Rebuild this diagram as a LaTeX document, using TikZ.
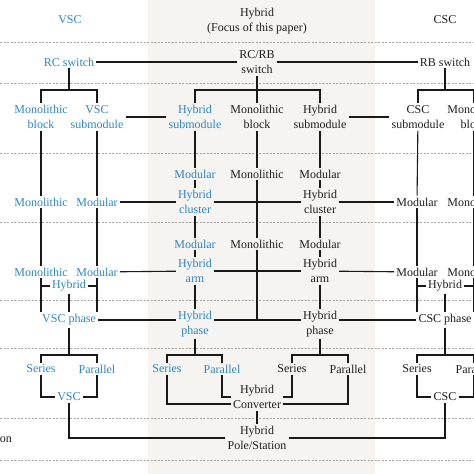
\documentclass[tikz,border=0pt]{standalone}
\usepackage{fontspec}
\setmainfont{Liberation Serif}
\usetikzlibrary{calc}
\definecolor{vscblue}{RGB}{46,134,193}
\definecolor{txtgray}{RGB}{30,30,30}
\definecolor{bandfill}{RGB}{245,244,240}
\tikzset{
	lvl/.style={inner sep=2pt, align=center, text=txtgray, font=\fontsize{12}{15}\selectfont},
	blu/.style={lvl, text=vscblue},
	sep/.style={gray!70, line width=0.5pt, dash pattern=on 2pt off 1.5pt},
	con/.style={black!90, line width=1.1pt}
}
\begin{document}
\begin{tikzpicture}[x=1pt,y=-1pt]

	\useasboundingbox (0,0) rectangle (474,474);
	\clip (0,0) rectangle (474,474);

	% shaded hybrid band and level separators
	\fill[bandfill] (148,0) rectangle (375,474);
	\foreach \yy in {42,83,153,222,300,348,418,460}
		\draw[sep] (0,\yy) -- (474,\yy);

	% headers
	\node[blu] (hvsc) at (70,20) {VSC};
	\node[lvl] (hhyb) at (257,21) {Hybrid\\(Focus of this paper)};
	\node[lvl] (hcsc) at (445,20) {CSC};

	% switches
	\node[blu] (rcsw) at (69,62) {RC switch};
	\node[lvl] (rcrb) at (257,62) {RC/RB\\switch};
	\node[lvl] (rbsw) at (445,62) {RB switch};

	% submodules
	\node[blu] (vmb) at (41,117) {Monolithic\\block};
	\node[blu] (vsm) at (97,117) {VSC\\submodule};
	\node[blu] (hsma) at (195,117) {Hybrid\\submodule};
	\node[lvl] (hmb) at (257,117) {Monolithic\\block};
	\node[lvl] (hsmb) at (320,117) {Hybrid\\submodule};
	\node[lvl] (csm) at (418,117) {CSC\\submodule};
	\node[lvl] (cmb) at (474,117) {Monolithic\\block};

	% clusters
	\node[blu] (vmo3) at (41,202) {Monolithic};
	\node[blu] (vmd3) at (97,202) {Modular};
	\node[blu] (hmda3) at (195,174) {Modular};
	\node[blu] (hcla) at (195,202) {Hybrid\\cluster};
	\node[lvl] (hmo3) at (257,174) {Monolithic};
	\node[lvl] (hmdb3) at (320,174) {Modular};
	\node[lvl] (hclb) at (320,202) {Hybrid\\cluster};
	\node[lvl] (cmd3) at (417,202) {Modular};
	\node[lvl] (cmo3) at (474,202) {Monolithic};

	% arms
	\node[blu] (vmo4) at (41,272) {Monolithic};
	\node[blu] (vmd4) at (97,272) {Modular};
	\node[blu] (vhy) at (69,286) {Hybrid};
	\node[blu] (hmda4) at (195,244) {Modular};
	\node[blu] (hara) at (195,271) {Hybrid\\arm};
	\node[lvl] (hmo4) at (257,244) {Monolithic};
	\node[lvl] (hmdb4) at (320,244) {Modular};
	\node[lvl] (harb) at (320,271) {Hybrid\\arm};
	\node[lvl] (cmd4) at (417,272) {Modular};
	\node[lvl] (cmo4) at (474,272) {Monolithic};
	\node[lvl] (chy) at (445,286) {Hybrid};

	% phases
	\node[blu] (vph) at (69,320) {VSC phase};
	\node[blu] (hpha) at (195,324) {Hybrid\\phase};
	\node[lvl] (hphb) at (320,324) {Hybrid\\phase};
	\node[lvl] (cph) at (445,320) {CSC phase};

	% converters
	\node[blu] (vse) at (41,369) {Series};
	\node[blu] (vpa) at (97,369) {Parallel};
	\node[blu] (vcv) at (69,397) {VSC};
	\node[blu] (hsea) at (167,369) {Series};
	\node[blu] (hpaa) at (222,369) {Parallel};
	\node[lvl] (hseb) at (292,369) {Series};
	\node[lvl] (hpab) at (348,369) {Parallel};
	\node[lvl] (hcv) at (257,397) {Hybrid\\Converter};
	\node[lvl] (cse) at (417,369) {Series};
	\node[lvl] (cpa) at (474,369) {Parallel};
	\node[lvl] (ccv) at (445,397) {CSC};

	% stations
	\node[lvl] (hpl) at (257,438) {Hybrid\\Pole/Station};
	\node[lvl, anchor=east, inner sep=0pt] (stn) at (12,439) {Station};

	% tree junctions
	\coordinate (rcj) at (69,90);
	\coordinate (hyj) at (257,90);
	\coordinate (rbj) at (445,90);
	\coordinate (vpj) at (69,355);
	\coordinate (haj) at (195,355);
	\coordinate (hbj) at (320,355);
	\coordinate (cpj) at (445,355);

	% switch level
	\draw[con] (rcsw) -- (rcrb);
	\draw[con] (rcrb) -- (rbsw);
	\draw[con] (rcsw) -- (rcj);
	\draw[con] (vmb.north) |- (rcj) -| (vsm.north);
	\draw[con] (rcrb) -- (hmb);
	\draw[con] (hsma.north) |- (hyj) -| (hsmb.north);
	\draw[con] (rbsw) -- (rbj);
	\draw[con] (csm.north) |- (rbj) -| (cmb.north);

	% submodule level
	\draw[con] (vsm) -- (hsma);
	\draw[con] (hsmb) -- (csm);
	\draw[con] (vmb) -- (vmo3);
	\draw[con] (vsm) -- (vmd3);
	\draw[con] (hsma) -- (hmda3);
	\draw[con] (hmda3) -- (hcla);
	\draw[con] (hmb) -- (hmo3);
	\draw[con] (hsmb) -- (hmdb3);
	\draw[con] (hmdb3) -- (hclb);
	\draw[con] (csm) -- (cmd3);
	\draw[con] (cmb) -- (cmo3);

	% cluster level
	\draw[con] (vmd3) -- (hcla);
	\draw[con] (hcla) -- (hclb);
	\draw[con] (hclb) -- (cmd3);
	\draw[con] (vmo3) -- (vmo4);
	\draw[con] (vmd3) -- (vmd4);
	\draw[con] (hcla) -- (hmda4);
	\draw[con] (hmda4) -- (hara);
	\draw[con] (hmo3) -- (hmo4);
	\draw[con] (hclb) -- (hmdb4);
	\draw[con] (hmdb4) -- (harb);
	\draw[con] (cmd3) -- (cmd4);
	\draw[con] (cmo3) -- (cmo4);

	% arm level
	\draw[con] (vmd4) -- (hara);
	\draw[con] (hara) -- (harb);
	\draw[con] (harb) -- (cmd4);
	\draw[con] (vmo4.south) -- (vmo4.south |- vph.north);
	\draw[con] (vmd4.south) -- (vmd4.south |- vph.north);
	\draw[con] (vmo4.south |- vhy.west) -- (vhy.west);
	\draw[con] (vhy.east) -- (vmd4.south |- vhy.east);
	\draw[con] (vhy) -- (vhy.south |- vph.north);
	\draw[con] (hara) -- (hpha);
	\draw[con] (harb) -- (hphb);
	\draw[con] (hmo4.south) -- (hmo4.south |- vph.east);
	\draw[con] (cmd4.south) -- (cmd4.south |- cph.north);
	\draw[con] (cmo4.south) -- (cmo4.south |- cph.north);
	\draw[con] (cmd4.south |- chy.west) -- (chy.west);
	\draw[con] (chy.east) -- (cmo4.south |- chy.east);
	\draw[con] (chy) -- (chy.south |- cph.north);

	% phase level
	\draw[con] (vph.east) -- (hpha.west |- vph.east);
	\draw[con] (hpha.east |- vph.east) -- (hphb.west |- vph.east);
	\draw[con] (hphb.east |- cph.west) -- (cph.west);
	\draw[con] (vph) -- (vpj);
	\draw[con] (vse.north) |- (vpj) -| (vpa.north);
	\draw[con] (hpha) -- (haj);
	\draw[con] (hsea.north) |- (haj) -| (hpaa.north);
	\draw[con] (hphb) -- (hbj);
	\draw[con] (hseb.north) |- (hbj) -| (hpab.north);
	\draw[con] (cph) -- (cpj);
	\draw[con] (cse.north) |- (cpj) -| (cpa.north);

	% converter level
	\draw[con] (vse.south) |- (vcv.west);
	\draw[con] (vpa.south) |- (vcv.east);
	\draw[con] (hsea.south) |- ($(hcv.west)+(0,7)$);
	\draw[con] (hpaa.south) |- (hcv.west);
	\draw[con] (hseb.south) |- (hcv.east);
	\draw[con] (hpab.south) |- ($(hcv.east)+(0,7)$);
	\draw[con] (cse.south) |- (ccv.west);
	\draw[con] (cpa.south) |- (ccv.east);

	% station level
	\draw[con] (hcv) -- (hpl);
	\draw[con] (vcv.south) |- (hpl.west);
	\draw[con] (ccv.south) |- (hpl.east);

\end{tikzpicture}
\end{document}
